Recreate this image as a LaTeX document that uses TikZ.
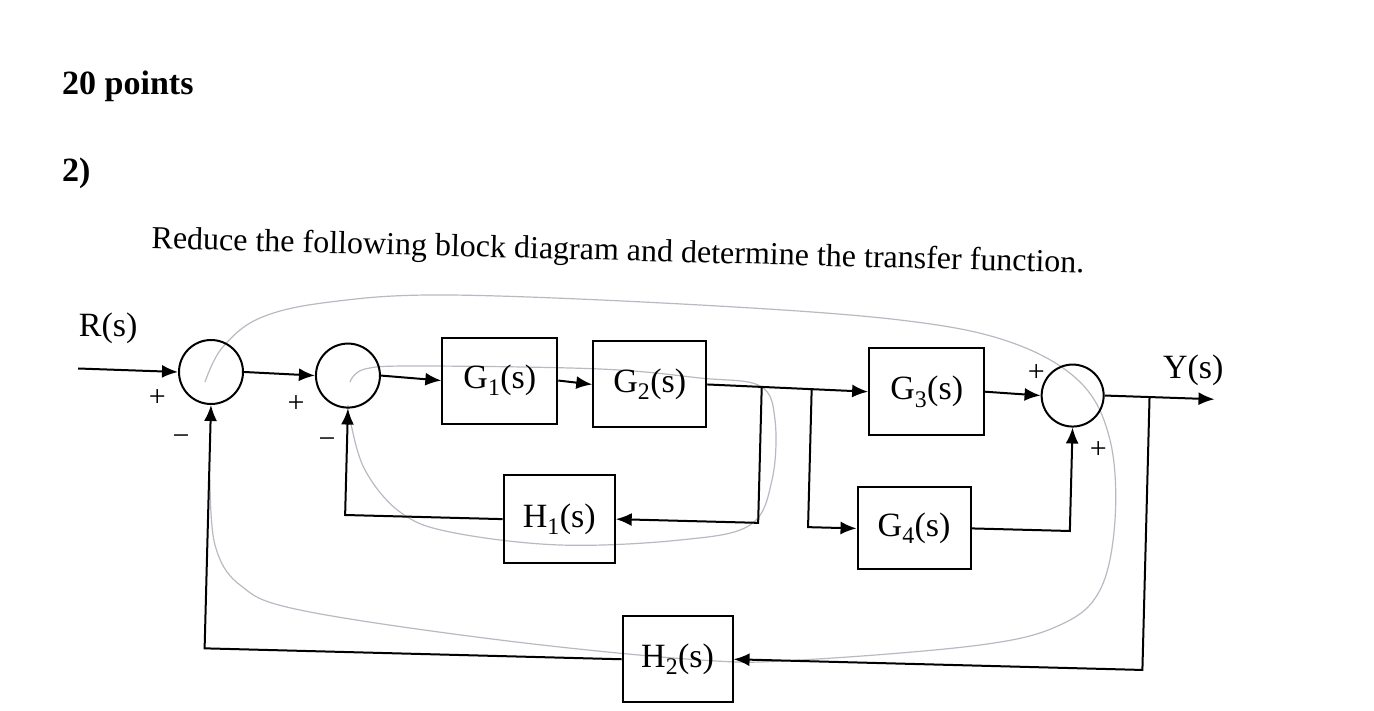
\documentclass[tikz,border=0pt]{standalone}
\usepackage{fontspec}
\setmainfont{Liberation Serif}
\usetikzlibrary{arrows.meta}
\definecolor{scribc}{RGB}{185,185,195}
\begin{document}
\begin{tikzpicture}[x=1pt,y=-1pt,
  blk/.style={draw, line width=2pt, minimum width=113pt, minimum height=86pt, inner sep=0pt, font=\fontsize{34}{36}\selectfont},
  sumj/.style={draw, circle, line width=2pt, minimum size=64pt, inner sep=0pt},
  sig/.style={line width=2pt, -{Latex[length=16pt,width=13pt]}},
  wire/.style={line width=2pt},
  lbl/.style={font=\fontsize{34}{36}\selectfont, inner sep=0pt},
  sgn/.style={font=\fontsize{30}{32}\selectfont, inner sep=0pt},
  scrib/.style={line width=1.2pt, scribc}]
\useasboundingbox (0,0) rectangle (1374,710);
% faint pencil marks
\draw[scrib] plot[smooth, tension=0.6] coordinates {(205,382) (222,348) (260,318) (330,302) (450,295) (700,305) (900,320) (1010,342) (1080,382) (1110,440) (1115,520) (1100,590) (1060,625) (980,645) (800,660) (700,660) (500,640) (300,610) (240,585) (215,545) (210,480)};
\draw[scrib] plot[smooth, tension=0.6] coordinates {(350,382) (365,369) (420,366) (600,369) (700,378) (760,386) (775,420) (772,480) (750,525) (680,540) (560,545) (450,532) (400,512) (365,470) (350,420) (348,405)};
% texts
\node[font=\fontsize{34}{36}\selectfont\bfseries, anchor=base west, inner sep=0pt] (pts) at (62,94) {20 points};
\node[font=\fontsize{34}{36}\selectfont\bfseries, anchor=base west, inner sep=0pt] (num) at (62,181) {2)};
\begin{scope}[rotate around={-1.5:(211,372)}]
  \node[font=\fontsize{32}{34}\selectfont, anchor=base west, inner sep=0pt, transform shape] (task) at (148,250) {Reduce the following block diagram and determine the transfer function.};

  \node[sumj] (s1) at (211,372) {};
  \node[sumj] (s2) at (348,372) {};
  \node[blk, minimum width=115pt] (G1) at (500,373) {G\textsubscript{1}(s)};
  \node[blk] (G2) at (650,373) {G\textsubscript{2}(s)};
  \node[blk, minimum width=115pt, minimum height=87pt] (G3) at (927,373) {G\textsubscript{3}(s)};
  \node[sumj, minimum size=62pt] (s3) at (1073,373) {};
  \node[blk, minimum width=111pt, minimum height=88pt] (H1) at (563,510) {H\textsubscript{1}(s)};
  \node[blk, minimum height=82pt] (G4) at (918,510) {G\textsubscript{4}(s)};
  \node[blk, minimum width=110pt] (H2) at (685,647) {H\textsubscript{2}(s)};

  \coordinate (in) at (78,372);
  \coordinate (out) at (1215,373);
  \coordinate (b1) at (762,373);
  \coordinate (b2) at (812,373);
  \coordinate (b3) at (1150,373);

  \node[lbl] (R) at (107,331) {R(s)};
  \node[lbl] (Y) at (1193,345) {Y(s)};
  \node[sgn] (p1) at (158,399) {+};
  \node[sgn] (m1) at (183,441) {−};
  \node[sgn] (p2) at (297,402) {+};
  \node[sgn] (m2) at (329,440) {−};
  \node[sgn] (p3) at (1036,351) {+};
  \node[sgn] (p4) at (1100,427) {+};

  \draw[sig] (in) -- (s1.west);
  \draw[sig] (s1.east) -- (s2.west);
  \draw[sig] (s2.east) -- (G1.west);
  \draw[sig] (G1.east) -- (G2.west);
  \draw[sig] (G2.east) -- (G3.west);
  \draw[sig] (G3.east) -- (s3.west);
  \draw[sig] (s3.east) -- (out);
  \draw[sig] (b1) |- (H1.east);
  \draw[sig] (H1.west) -| (s2.south);
  \draw[sig] (b2) |- (G4.west);
  \draw[sig] (G4.east) -| (s3.south);
  \draw[sig] (b3) |- (H2.east);
  \draw[sig] (H2.west) -| (s1.south);
\end{scope}
\end{tikzpicture}
\end{document}
